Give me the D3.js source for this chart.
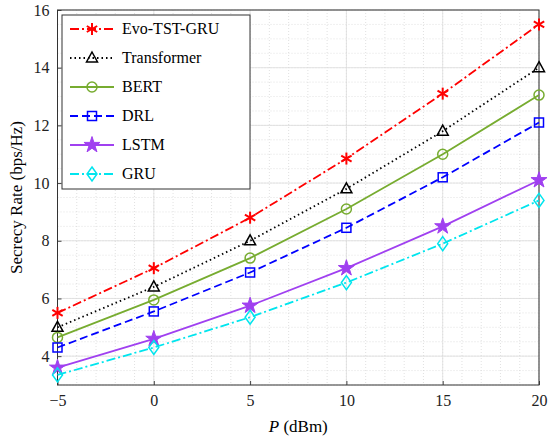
<!DOCTYPE html>
<html>
<head>
<script src="https://cdn.jsdelivr.net/npm/d3@7"></script>
<style>
  body { margin: 0; background: #fff; }
  text { font-family: 'Liberation Serif', serif; }
</style>
</head>
<body>
<svg id="chart" width="550" height="444"></svg>
<script>
var powers = [-5, 0, 5, 10, 15, 20];
var evoTstGru = [5.5, 7.05, 8.8, 10.85, 13.1, 15.5];
var transformer = [5.0, 6.4, 8.0, 9.8, 11.8, 14.0];
var bert = [4.65, 5.95, 7.4, 9.1, 11.0, 13.05];
var drl = [4.3, 5.55, 6.9, 8.45, 10.2, 12.1];
var lstm = [3.6, 4.6, 5.75, 7.05, 8.5, 10.1];
var gru = [3.35, 4.3, 5.35, 6.55, 7.9, 9.4];
var xTicks = [-5, 0, 5, 10, 15, 20];
var yTicks = [4, 6, 8, 10, 12, 14, 16];

var series = [
  { name: 'Evo-TST-GRU', values: evoTstGru, color: '#ff0000', dash: '9,3,2,3', marker: 'star6' },
  { name: 'Transformer', values: transformer, color: '#000000', dash: '1.5,3', marker: 'triangle' },
  { name: 'BERT', values: bert, color: '#77ac30', dash: null, marker: 'circle' },
  { name: 'DRL', values: drl, color: '#0000ff', dash: '8,4', marker: 'square' },
  { name: 'LSTM', values: lstm, color: '#a040f0', dash: null, marker: 'star5' },
  { name: 'GRU', values: gru, color: '#00e5ee', dash: '9,3,2,3', marker: 'diamond' }
];

var svg = d3.select('#chart');
var pLeft = 57.5, pRight = 539, pTop = 10, pBottom = 385;
var x = d3.scaleLinear().domain([-5, 20]).range([pLeft, pRight]);
var y = d3.scaleLinear().domain([3, 16]).range([pBottom, pTop]);

var g = svg.append('g');
// minor grid
d3.range(-5, 20.01, 1).forEach(function (v) {
  g.append('line').attr('x1', x(v)).attr('x2', x(v)).attr('y1', pTop).attr('y2', pBottom)
    .attr('stroke', '#ccc').attr('stroke-width', 0.6).attr('stroke-dasharray', '1,2');
});
d3.range(3, 16.01, 0.5).forEach(function (v) {
  g.append('line').attr('x1', pLeft).attr('x2', pRight).attr('y1', y(v)).attr('y2', y(v))
    .attr('stroke', '#ccc').attr('stroke-width', 0.6).attr('stroke-dasharray', '1,2');
});
// major grid
xTicks.forEach(function (v) {
  g.append('line').attr('x1', x(v)).attr('x2', x(v)).attr('y1', pTop).attr('y2', pBottom)
    .attr('stroke', '#dcdcdc').attr('stroke-width', 0.8);
});
yTicks.forEach(function (v) {
  g.append('line').attr('x1', pLeft).attr('x2', pRight).attr('y1', y(v)).attr('y2', y(v))
    .attr('stroke', '#dcdcdc').attr('stroke-width', 0.8);
});

// axes
var xAxis = d3.axisBottom(x).tickValues(xTicks).tickSize(-4).tickPadding(10)
  .tickFormat(function (d) { return d < 0 ? '\u2212' + (-d) : d; });
var yAxis = d3.axisLeft(y).tickValues(yTicks).tickSize(-4).tickPadding(8);
var xa = svg.append('g').attr('transform', 'translate(0,' + pBottom + ')').call(xAxis);
var ya = svg.append('g').attr('transform', 'translate(' + pLeft + ',0)').call(yAxis);
[xa, ya].forEach(function (a) {
  a.selectAll('text').attr('font-size', 16).attr('fill', '#222');
  a.selectAll('line').attr('stroke', '#444');
  a.select('.domain').remove();
});
svg.append('rect').attr('x', pLeft).attr('y', pTop).attr('width', pRight - pLeft).attr('height', pBottom - pTop)
  .attr('fill', 'none').attr('stroke', '#333').attr('stroke-width', 1);

svg.append('text').attr('x', (pLeft + pRight) / 2).attr('y', 432).attr('text-anchor', 'middle')
  .attr('font-size', 17).html('<tspan font-style="italic">P</tspan> (dBm)');
svg.append('text').attr('transform', 'translate(22,' + (pTop + pBottom) / 2 + ') rotate(-90)')
  .attr('text-anchor', 'middle').attr('font-size', 17).text('Secrecy Rate (bps/Hz)');

function drawMarker(sel, type, color) {
  if (type === 'circle') {
    sel.append('circle').attr('r', 5).attr('fill', 'none').attr('stroke', color).attr('stroke-width', 1.5);
  } else if (type === 'square') {
    sel.append('rect').attr('x', -4.5).attr('y', -4.5).attr('width', 9).attr('height', 9)
      .attr('fill', 'none').attr('stroke', color).attr('stroke-width', 1.5);
  } else if (type === 'triangle') {
    sel.append('path').attr('d', 'M0,-6L5.5,4L-5.5,4Z').attr('fill', 'none').attr('stroke', color).attr('stroke-width', 1.5);
  } else if (type === 'diamond') {
    sel.append('path').attr('d', 'M0,-7L5,0L0,7L-5,0Z').attr('fill', 'none').attr('stroke', color).attr('stroke-width', 1.5);
  } else if (type === 'star5') {
    sel.append('path').attr('d', d3.symbol(d3.symbolStar, 80)()).attr('fill', color).attr('stroke', color);
  } else if (type === 'star6') {
    [0, 60, 120].forEach(function (a) {
      sel.append('line').attr('x1', 0).attr('y1', -6).attr('x2', 0).attr('y2', 6)
        .attr('transform', 'rotate(' + a + ')').attr('stroke', color).attr('stroke-width', 2);
    });
  }
}

var line = d3.line().x(function (d, i) { return x(powers[i]); }).y(function (d) { return y(d); });
series.forEach(function (s) {
  svg.append('path').datum(s.values).attr('d', line).attr('fill', 'none')
    .attr('stroke', s.color).attr('stroke-width', 1.8).attr('stroke-dasharray', s.dash);
  s.values.forEach(function (v, i) {
    var m = svg.append('g').attr('transform', 'translate(' + x(powers[i]) + ',' + y(v) + ')');
    drawMarker(m, s.marker, s.color);
  });
});

// legend
var lg = svg.append('g').attr('transform', 'translate(62,15)');
lg.append('rect').attr('width', 188).attr('height', 174).attr('fill', '#fff').attr('stroke', '#333').attr('stroke-width', 1);
series.forEach(function (s, i) {
  var yy = 14 + i * 29;
  lg.append('line').attr('x1', 8).attr('x2', 52).attr('y1', yy).attr('y2', yy)
    .attr('stroke', s.color).attr('stroke-width', 1.8).attr('stroke-dasharray', s.dash);
  drawMarker(lg.append('g').attr('transform', 'translate(30,' + yy + ')'), s.marker, s.color);
  lg.append('text').attr('x', 60).attr('y', yy + 5).attr('font-size', 16).text(s.name);
});
</script>
</body>
</html>
